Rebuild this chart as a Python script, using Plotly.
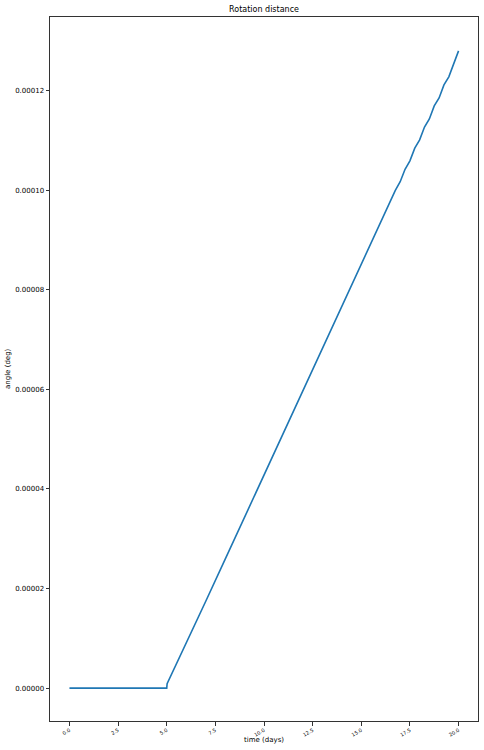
import plotly.graph_objects as go

# time (days)
time_days = [0.0, 5.0, 5.02, 6.0, 7.0, 8.0, 9.0, 10.0, 11.0, 12.0, 13.0,
             13.25, 13.5, 13.75, 14.0, 14.25, 14.5, 14.75, 15.0, 15.25, 15.5,
             15.75, 16.0, 16.25, 16.5, 16.75, 17.0, 17.25, 17.5, 17.75, 18.0,
             18.25, 18.5, 18.75, 19.0, 19.25, 19.5, 19.75, 20.0]
# angle (micro-degrees)
angle_udeg = [0.0, 0.0, 0.9, 8.95, 17.4, 25.85, 34.3, 42.75, 51.2, 59.65, 68.1,
              70.25, 72.28, 74.50, 76.48, 78.74, 80.69, 82.99, 84.89, 87.23, 89.10,
              91.48, 93.30, 95.72, 97.51, 99.97, 101.71, 104.21, 105.92, 108.46, 110.12,
              112.70, 114.33, 116.94, 118.55, 121.16, 122.78, 125.39, 128.0]
angle_deg = [v * 1e-6 for v in angle_udeg]

x_ticks = [0.0, 2.5, 5.0, 7.5, 10.0, 12.5, 15.0, 17.5, 20.0]
x_tick_labels = ["0.0", "2.5", "5.0", "7.5", "10.0", "12.5", "15.0", "17.5", "20.0"]
y_ticks = [0.0, 0.00002, 0.00004, 0.00006, 0.00008, 0.00010, 0.00012]
y_tick_labels = ["0.00000", "0.00002", "0.00004", "0.00006", "0.00008", "0.00010", "0.00012"]

FONT = "DejaVu Sans"

fig = go.Figure()
fig.add_trace(go.Scatter(x=time_days, y=angle_deg, mode="lines",
                         line=dict(color="#1f77b4", width=1.6), showlegend=False))

axis_common = dict(showline=True, linecolor="#333333", linewidth=1, mirror=True,
                   showgrid=False, zeroline=False, ticks="outside", ticklen=3.5,
                   tickwidth=0.8, tickcolor="#333333", automargin=False)

fig.update_layout(
    width=484, height=750,
    margin=dict(l=50, r=6, t=17, b=29, autoexpand=False),
    paper_bgcolor="white", plot_bgcolor="white",
    font=dict(family=FONT, color="black"),
    title=dict(text="Rotation distance", x=264 / 484, xanchor="center",
               y=1 - 9 / 750, yanchor="middle", yref="container",
               font=dict(size=8, family=FONT, color="black")),
    xaxis=dict(range=[-1.0, 21.0], tickvals=x_ticks, ticktext=x_tick_labels,
               tickangle=-30, tickfont=dict(size=5, family=FONT), **axis_common),
    yaxis=dict(range=[-0.0000066, 0.0001348], tickvals=y_ticks, ticktext=y_tick_labels,
               tickfont=dict(size=7, family=FONT), **axis_common),
    annotations=[
        dict(text="time (days)", xref="paper", yref="paper", x=0.5, y=-19 / 704,
             xanchor="center", yanchor="middle", showarrow=False,
             font=dict(size=7, family=FONT, color="black")),
        dict(text="angle (deg)", xref="paper", yref="paper", x=-42 / 428, y=0.5,
             xanchor="center", yanchor="middle", showarrow=False, textangle=-90,
             font=dict(size=7, family=FONT, color="black")),
    ],
)

fig.write_html(
    "out.html",
    config={"displayModeBar": False},
    post_script="document.body.style.margin='0';document.body.style.overflow='hidden';",
)
